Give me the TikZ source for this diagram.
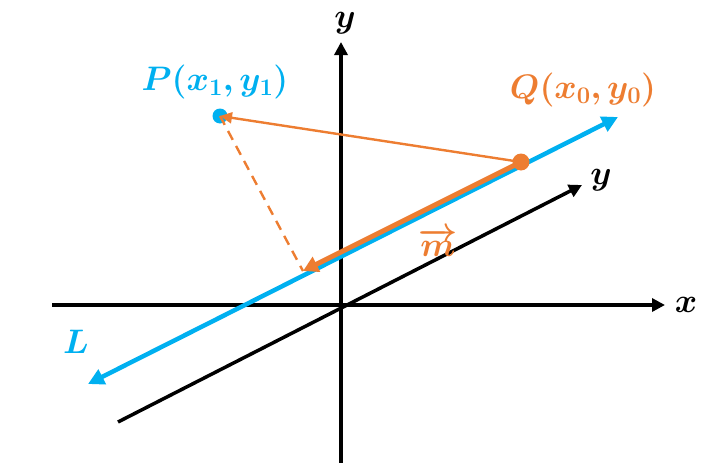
\RequirePackage{fix-cm}
\documentclass[tikz,border=0pt]{standalone}
\usepackage{amsmath}
\usepackage{amssymb}
\usepackage{bm}
\usetikzlibrary{arrows.meta, positioning}
\definecolor{celeste}{RGB}{0,176,240}
\definecolor{naranja}{RGB}{237,125,49}
\tikzstyle{eje} = [black, line width=3.5pt, -{Triangle[length=13pt, width=13pt]}]
\tikzstyle{recta} = [celeste, line width=4.5pt, {Triangle[length=16pt, width=16pt]}-{Triangle[length=16pt, width=16pt]}]
\tikzstyle{vector} = [naranja, line width=2.4pt, -{Triangle[length=12pt, width=11pt]}]
\tikzstyle{etiqueta} = [font=\fontsize{34}{36}\selectfont, inner sep=0pt]

\begin{document}
\begin{tikzpicture}[x=1pt, y=-1pt]
	\useasboundingbox (0,0) rectangle (721,463);
	% ejes
	\coordinate (O) at (341,305);
	\coordinate (xi) at (52,305);
	\coordinate (xf) at (665,305);
	\coordinate (yi) at (341,463);
	\coordinate (yf) at (341,42);
	\coordinate (zi) at (118,422);
	\coordinate (zf) at (582,185);
	\draw[eje] (xi) -- (xf);
	\draw[eje] (yi) -- (yf);
	\draw[eje] (zi) -- (zf);
	\node[etiqueta] (labx) at (686,305) {$\bm{x}$};
	\node[etiqueta] (laby) at (345,23) {$\bm{y}$};
	\node[etiqueta] (labz) at (601,180) {$\bm{y}$};
	% recta L
	\coordinate (Li) at (88,384);
	\coordinate (Lf) at (618,117);
	\draw[recta] (Li) -- (Lf);
	\node[etiqueta, text=celeste] (labL) at (76,342) {$\bm{L}$};
	% puntos
	\coordinate (F) at (303,271);
	\fill[celeste] (220,116) circle (7.5) coordinate (P);
	\draw[vector, line width=5pt, -{Triangle[length=15pt, width=16pt]}] (521,162) -- (F);
	\draw[vector] (521,162) -- (P);
	\draw[naranja, line width=2.4pt, dashed, dash pattern=on 10pt off 7pt] (P) -- (F);
	\fill[naranja] (521,162) circle (8.5) coordinate (Q);
	\node[etiqueta, text=celeste] (labP) at (215,82) {$\bm{P(x_1, y_1)}$};
	\node[etiqueta, text=naranja] (labQ) at (583,90) {$\bm{Q(x_0, y_0)}$};
	\node[etiqueta, text=naranja] (labm) at (438,242) {$\bm{\overrightarrow{m}}$};
\end{tikzpicture}
\end{document}
